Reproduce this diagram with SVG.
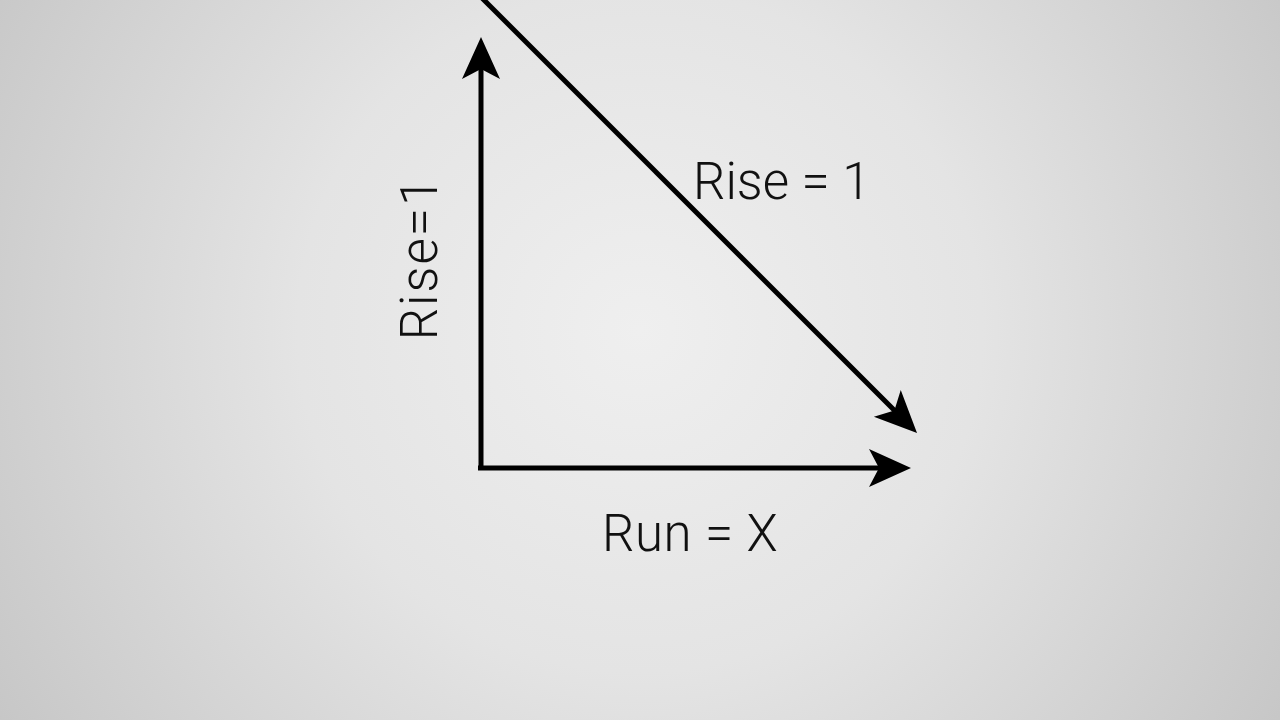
<svg xmlns="http://www.w3.org/2000/svg" width="1280" height="720" viewBox="0 0 1280 720">
  <defs>
    <radialGradient id="bg" cx="640" cy="330" r="760" gradientUnits="userSpaceOnUse">
      <stop offset="0" stop-color="#efefef"/>
      <stop offset="0.45" stop-color="#e4e4e4"/>
      <stop offset="1" stop-color="#c6c6c6"/>
    </radialGradient>
    <marker id="arrow" viewBox="0 0 42 40" refX="12" refY="20" markerWidth="42" markerHeight="40" markerUnits="userSpaceOnUse" orient="auto">
      <path d="M0,1 L42,20 L0,39 L10,20 Z" fill="#000"/>
    </marker>
    <style>
      .lbl { font-family: Roboto, "Liberation Sans", sans-serif; font-weight: 300; font-size: 51px; fill: #111; }
      .ln { stroke: #000; stroke-width: 5; fill: none; }
    </style>
  </defs>
  <rect width="1280" height="720" fill="url(#bg)"/>
  <g id="connectors">
    <line class="ln" x1="481" y1="470" x2="481" y2="67" marker-end="url(#arrow)"/>
    <line class="ln" x1="478" y1="468" x2="881" y2="468" marker-end="url(#arrow)"/>
    <line class="ln" x1="480" y1="-4" x2="895.8" y2="411.8" marker-end="url(#arrow)"/>
  </g>
  <g id="label-rise-vertical">
    <text class="lbl" transform="translate(437,258) rotate(-90)" text-anchor="middle" letter-spacing="2">Rise=1</text>
  </g>
  <g id="label-rise-diagonal">
    <text class="lbl" x="693" y="199">Rise = 1</text>
  </g>
  <g id="label-run">
    <text class="lbl" x="602" y="551" font-size="52" letter-spacing="0.5">Run = X</text>
  </g>
</svg>
